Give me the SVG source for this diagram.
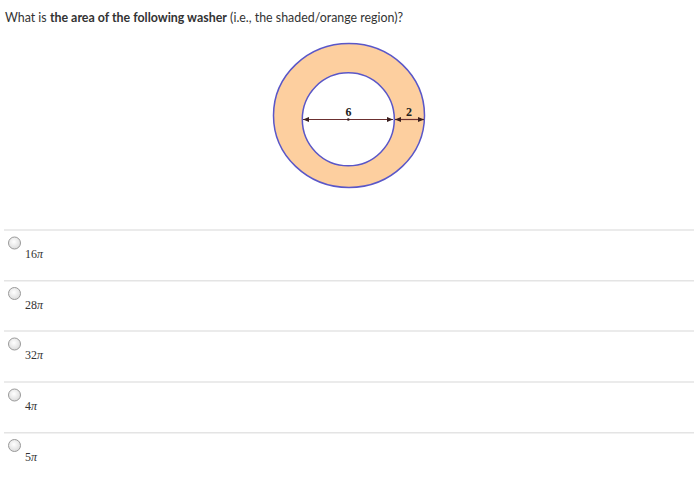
<svg xmlns="http://www.w3.org/2000/svg" width="700" height="479" viewBox="0 0 700 479">
<style>
.q{font-family:Lato,"Liberation Sans",sans-serif;font-size:12.4px;fill:#333}
.b{font-weight:bold}
.sep{stroke:#e4e4e4;stroke-width:1.5}
.radio{fill:url(#rg);stroke:#9a9a9a;stroke-width:1}
.ans{font-family:"Liberation Serif","DejaVu Serif",serif;font-size:12px;fill:#333}
.dim{stroke:#6b2f2f;stroke-width:1.2;fill:none}
.lbl{font-family:"Liberation Serif","DejaVu Serif",serif;font-size:12px;font-weight:bold;fill:#222}
</style>
<defs>
<radialGradient id="rg" cx="0.45" cy="0.4" r="0.7">
<stop offset="0" stop-color="#ffffff"/>
<stop offset="1" stop-color="#d6d6d6"/>
</radialGradient>
<marker id="ah" viewBox="0 0 10 10" refX="10" refY="5" markerWidth="6" markerHeight="6" orient="auto-start-reverse" markerUnits="userSpaceOnUse">
<path d="M0,1 L10,5 L0,9 z" fill="#3a1f1f"/>
</marker>
</defs>
<rect width="700" height="479" fill="#fff"/>
<text class="q" x="5" y="22">What is <tspan class="b">the area of the following washer</tspan> (i.e., the shaded/orange region)?</text>
<g id="washer">
<ellipse cx="349" cy="115.5" rx="75.5" ry="72" fill="#fdcf9f" stroke="#5a57c8" stroke-width="1.5"/>
<ellipse cx="348.3" cy="119.3" rx="46" ry="46.5" fill="#fff" stroke="#5a57c8" stroke-width="1.5"/>
</g>
<g id="connectors">
<line class="dim" x1="303" y1="119.5" x2="393" y2="119.5" marker-start="url(#ah)" marker-end="url(#ah)"/>
<line class="dim" x1="395" y1="119.5" x2="424" y2="119.5" marker-start="url(#ah)" marker-end="url(#ah)"/>
<circle cx="348.3" cy="119.5" r="1.3" fill="#3a1f1f"/>
</g>
<text class="lbl" x="348.5" y="116" text-anchor="middle">6</text>
<text class="lbl" x="409" y="116" text-anchor="middle">2</text>
<g id="options">
<line class="sep" x1="4" y1="230" x2="694" y2="230"/>
<line class="sep" x1="4" y1="280.7" x2="694" y2="280.7"/>
<line class="sep" x1="4" y1="331" x2="694" y2="331"/>
<line class="sep" x1="4" y1="382" x2="694" y2="382"/>
<line class="sep" x1="4" y1="432.7" x2="694" y2="432.7"/>
<g id="opt1"><circle class="radio" cx="14.5" cy="243" r="6"/><text class="ans" x="25" y="258">16<tspan font-style="italic">π</tspan></text></g>
<g id="opt2"><circle class="radio" cx="14.5" cy="293.5" r="6"/><text class="ans" x="25" y="308.5">28<tspan font-style="italic">π</tspan></text></g>
<g id="opt3"><circle class="radio" cx="14.5" cy="344" r="6"/><text class="ans" x="25" y="359">32<tspan font-style="italic">π</tspan></text></g>
<g id="opt4"><circle class="radio" cx="14.5" cy="395" r="6"/><text class="ans" x="25" y="410">4<tspan font-style="italic">π</tspan></text></g>
<g id="opt5"><circle class="radio" cx="14.5" cy="445.5" r="6"/><text class="ans" x="25" y="460.5">5<tspan font-style="italic">π</tspan></text></g>
</g>
</svg>
